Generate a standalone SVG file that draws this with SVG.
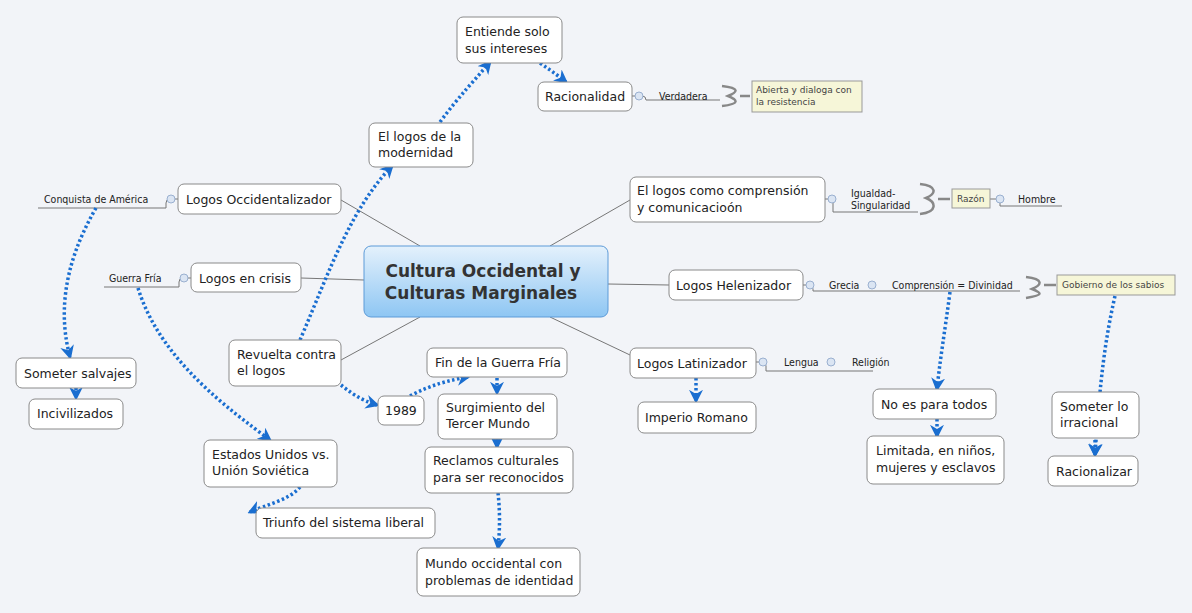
<svg xmlns="http://www.w3.org/2000/svg" width="1192" height="613" viewBox="0 0 1192 613">
<defs>
<linearGradient id="cg" x1="0" y1="0" x2="0" y2="1"><stop offset="0" stop-color="#e4f1fc"/><stop offset="1" stop-color="#8ec6f3"/></linearGradient>
<marker id="ah" viewBox="0 0 10 10" refX="8" refY="5" markerWidth="4" markerHeight="4" orient="auto"><path d="M0,0 L10,5 L0,10 L3,5 z" fill="#1a6ed0"/></marker>
<style>
.n{fill:#fff;stroke:#8a8a8a;stroke-width:1}
.t{font-family:"DejaVu Sans",sans-serif;font-size:12.5px;fill:#222}
.s{font-family:"DejaVu Sans Condensed","DejaVu Sans",sans-serif;font-size:10.5px;fill:#222}
.nt{font-family:"DejaVu Sans",sans-serif;font-size:9px;fill:#444}
.note{fill:#f6f6d8;stroke:#999}
.l{stroke:#777;fill:none;stroke-width:1}
.d{stroke:#1a6ed0;stroke-width:3.5;stroke-dasharray:2.5 2.5;fill:none;marker-end:url(#ah)}
.br{stroke:#888;stroke-width:2.5;fill:none}
.c{fill:#dbe5f3;stroke:#9ab0d0}
</style>
</defs>
<rect width="1192" height="613" fill="#f2f4f8"/>
<g id="connectors">
<path class="l" d="M420,246 L341,200 M364,280 L301,278 M420,317 L341,360 M550,246 L630,200 M608,284 L669,285 M550,317 L630,355"/>
<path class="l" d="M632,96 h10 q4,0 4,4 h74 M825,199 h4 q4,0 4,4 v9 h85 M803,285 h6 q4,0 4,4 v2 h207 M756,362 h6 q4,0 4,4 v5 h107 M178,199 h-8 q-4,0 -4,4 v5 h-128 M191,278 h-8 q-4,0 -4,4 v5 h-75 M990,199 h6 q4,0 4,4 v3 h62"/>
<path class="br" d="M722,86 c18,2 16,6 6,10 c10,4 12,8 -6,10 M920,184 c18,2 16,10 6,14 c10,4 12,14 -6,16 M1026,277 c18,2 16,8 6,12 c10,4 12,6 -6,9 M740,96 h10 M938,199 h12 M1044,285 h12"/>
<circle class="c" cx="639" cy="96" r="4"/><circle class="c" cx="832" cy="199" r="4"/><circle class="c" cx="810" cy="285" r="4"/><circle class="c" cx="872" cy="285" r="4"/><circle class="c" cx="763" cy="362" r="4"/><circle class="c" cx="831" cy="362" r="4"/><circle class="c" cx="171" cy="199" r="4"/><circle class="c" cx="184" cy="278" r="4"/><circle class="c" cx="1000" cy="199" r="4"/>
<path class="d" d="M440,122 C460,95 475,80 490,62"/>
<path class="d" d="M540,63 C550,70 556,74 566,82"/>
<path class="d" d="M300,340 C330,270 350,210 392,166"/>
<path class="d" d="M96,208 C60,270 60,320 70,357"/>
<path class="d" d="M76,388 L76,398"/>
<path class="d" d="M138,288 C160,360 230,410 270,440"/>
<path class="d" d="M300,487 C290,500 265,505 250,512"/>
<path class="d" d="M341,385 C350,392 360,400 377,405"/>
<path class="d" d="M410,396 C430,385 450,380 468,377"/>
<path class="d" d="M497,378 L497,393"/>
<path class="d" d="M497,439 L497,447"/>
<path class="d" d="M498,493 C500,510 500,530 498,548"/>
<path class="d" d="M696,378 L696,401"/>
<path class="d" d="M950,292 C945,330 940,360 937,389"/>
<path class="d" d="M937,419 L937,436"/>
<path class="d" d="M1115,296 C1105,340 1100,380 1095,455"/>
<path class="d" d="M1095,440 L1095,455"/>
</g>
<g id="central"><rect x="364" y="246" width="244" height="71" rx="7" fill="url(#cg)" stroke="#5d9bd8"/><text x="483" y="277" text-anchor="middle" font-family="DejaVu Sans,sans-serif" font-size="17" font-weight="bold" fill="#333">Cultura Occidental y</text><text x="481" y="299" text-anchor="middle" font-family="DejaVu Sans,sans-serif" font-size="17" font-weight="bold" fill="#333">Culturas Marginales</text></g>
<g id="entiende"><rect class="n" x="457" y="17" width="105" height="46" rx="6"/><text class="t" x="465" y="36">Entiende solo</text><text class="t" x="465" y="53">sus intereses</text></g>
<g id="racionalidad"><rect class="n" x="538" y="82" width="94" height="29" rx="6"/><text class="t" x="545" y="101">Racionalidad</text></g>
<g id="verdadera"><text class="s" x="659" y="100">Verdadera</text></g>
<g id="abierta"><rect class="note" x="752" y="81" width="110" height="31"/><text class="nt" x="756" y="93">Abierta y dialoga con</text><text class="nt" x="756" y="105">la resistencia</text></g>
<g id="modernidad"><rect class="n" x="369" y="123" width="104" height="44" rx="6"/><text class="t" x="378" y="141">El logos de la</text><text class="t" x="378" y="157">modernidad</text></g>
<g id="comprension"><rect class="n" x="630" y="177" width="195" height="45" rx="6"/><text class="t" x="637" y="195">El logos como comprensión</text><text class="t" x="637" y="212">y comunicacioón</text></g>
<g id="igualdad"><text class="s" x="851" y="197">Igualdad-</text><text class="s" x="851" y="209">Singularidad</text></g>
<g id="razon"><rect class="note" x="952" y="189" width="38" height="19"/><text class="nt" x="957" y="202">Razón</text></g>
<g id="hombre"><text class="s" x="1018" y="203">Hombre</text></g>
<g id="helenizador"><rect class="n" x="669" y="270" width="134" height="30" rx="6"/><text class="t" x="676" y="290">Logos Helenizador</text></g>
<g id="grecia"><text class="s" x="829" y="289">Grecia</text></g>
<g id="divinidad"><text class="s" x="892" y="289">Comprensión = Divinidad</text></g>
<g id="gobierno"><rect class="note" x="1057" y="275" width="118" height="20"/><text class="nt" x="1062" y="288">Gobierno de los sabios</text></g>
<g id="latinizador"><rect class="n" x="630" y="348" width="126" height="30" rx="6"/><text class="t" x="637" y="368">Logos Latinizador</text></g>
<g id="lengua"><text class="s" x="784" y="366">Lengua</text></g>
<g id="religion"><text class="s" x="852" y="366">Religión</text></g>
<g id="imperio"><rect class="n" x="638" y="402" width="118" height="31" rx="6"/><text class="t" x="645" y="422">Imperio Romano</text></g>
<g id="noes"><rect class="n" x="873" y="389" width="123" height="30" rx="6"/><text class="t" x="881" y="409">No es para todos</text></g>
<g id="limitada"><rect class="n" x="867" y="436" width="137" height="48" rx="6"/><text class="t" x="876" y="455">Limitada, en niños,</text><text class="t" x="876" y="472">mujeres y esclavos</text></g>
<g id="someterirr"><rect class="n" x="1052" y="392" width="87" height="46" rx="6"/><text class="t" x="1060" y="411">Someter lo</text><text class="t" x="1060" y="427">irracional</text></g>
<g id="racionalizar"><rect class="n" x="1048" y="456" width="90" height="30" rx="6"/><text class="t" x="1056" y="476">Racionalizar</text></g>
<g id="occidentalizador"><rect class="n" x="178" y="184" width="163" height="30" rx="6"/><text class="t" x="186" y="204">Logos Occidentalizador</text></g>
<g id="conquista"><text class="s" x="44" y="203">Conquista de América</text></g>
<g id="crisis"><rect class="n" x="191" y="263" width="110" height="29" rx="6"/><text class="t" x="199" y="283">Logos en crisis</text></g>
<g id="guerrafria"><text class="s" x="109" y="282">Guerra Fría</text></g>
<g id="revuelta"><rect class="n" x="229" y="340" width="112" height="46" rx="6"/><text class="t" x="237" y="359">Revuelta contra</text><text class="t" x="237" y="375">el logos</text></g>
<g id="salvajes"><rect class="n" x="16" y="358" width="120" height="30" rx="6"/><text class="t" x="24" y="378">Someter salvajes</text></g>
<g id="incivilizados"><rect class="n" x="29" y="399" width="94" height="30" rx="6"/><text class="t" x="37" y="418">Incivilizados</text></g>
<g id="eeuu"><rect class="n" x="204" y="440" width="133" height="47" rx="6"/><text class="t" x="212" y="459">Estados Unidos vs.</text><text class="t" x="212" y="475">Unión Soviética</text></g>
<g id="triunfo"><rect class="n" x="256" y="508" width="179" height="30" rx="6"/><text class="t" x="263" y="527">Triunfo del sistema liberal</text></g>
<g id="y1989"><rect class="n" x="378" y="396" width="46" height="29" rx="6"/><text class="t" x="385" y="415">1989</text></g>
<g id="finguerra"><rect class="n" x="427" y="348" width="140" height="29" rx="6"/><text class="t" x="435" y="367">Fin de la Guerra Fría</text></g>
<g id="tercer"><rect class="n" x="438" y="394" width="119" height="45" rx="6"/><text class="t" x="446" y="412">Surgimiento del</text><text class="t" x="446" y="428">Tercer Mundo</text></g>
<g id="reclamos"><rect class="n" x="425" y="447" width="148" height="46" rx="6"/><text class="t" x="433" y="465">Reclamos culturales</text><text class="t" x="433" y="482">para ser reconocidos</text></g>
<g id="mundo"><rect class="n" x="417" y="548" width="163" height="48" rx="6"/><text class="t" x="425" y="568">Mundo occidental con</text><text class="t" x="425" y="585">problemas de identidad</text></g>
</svg>
